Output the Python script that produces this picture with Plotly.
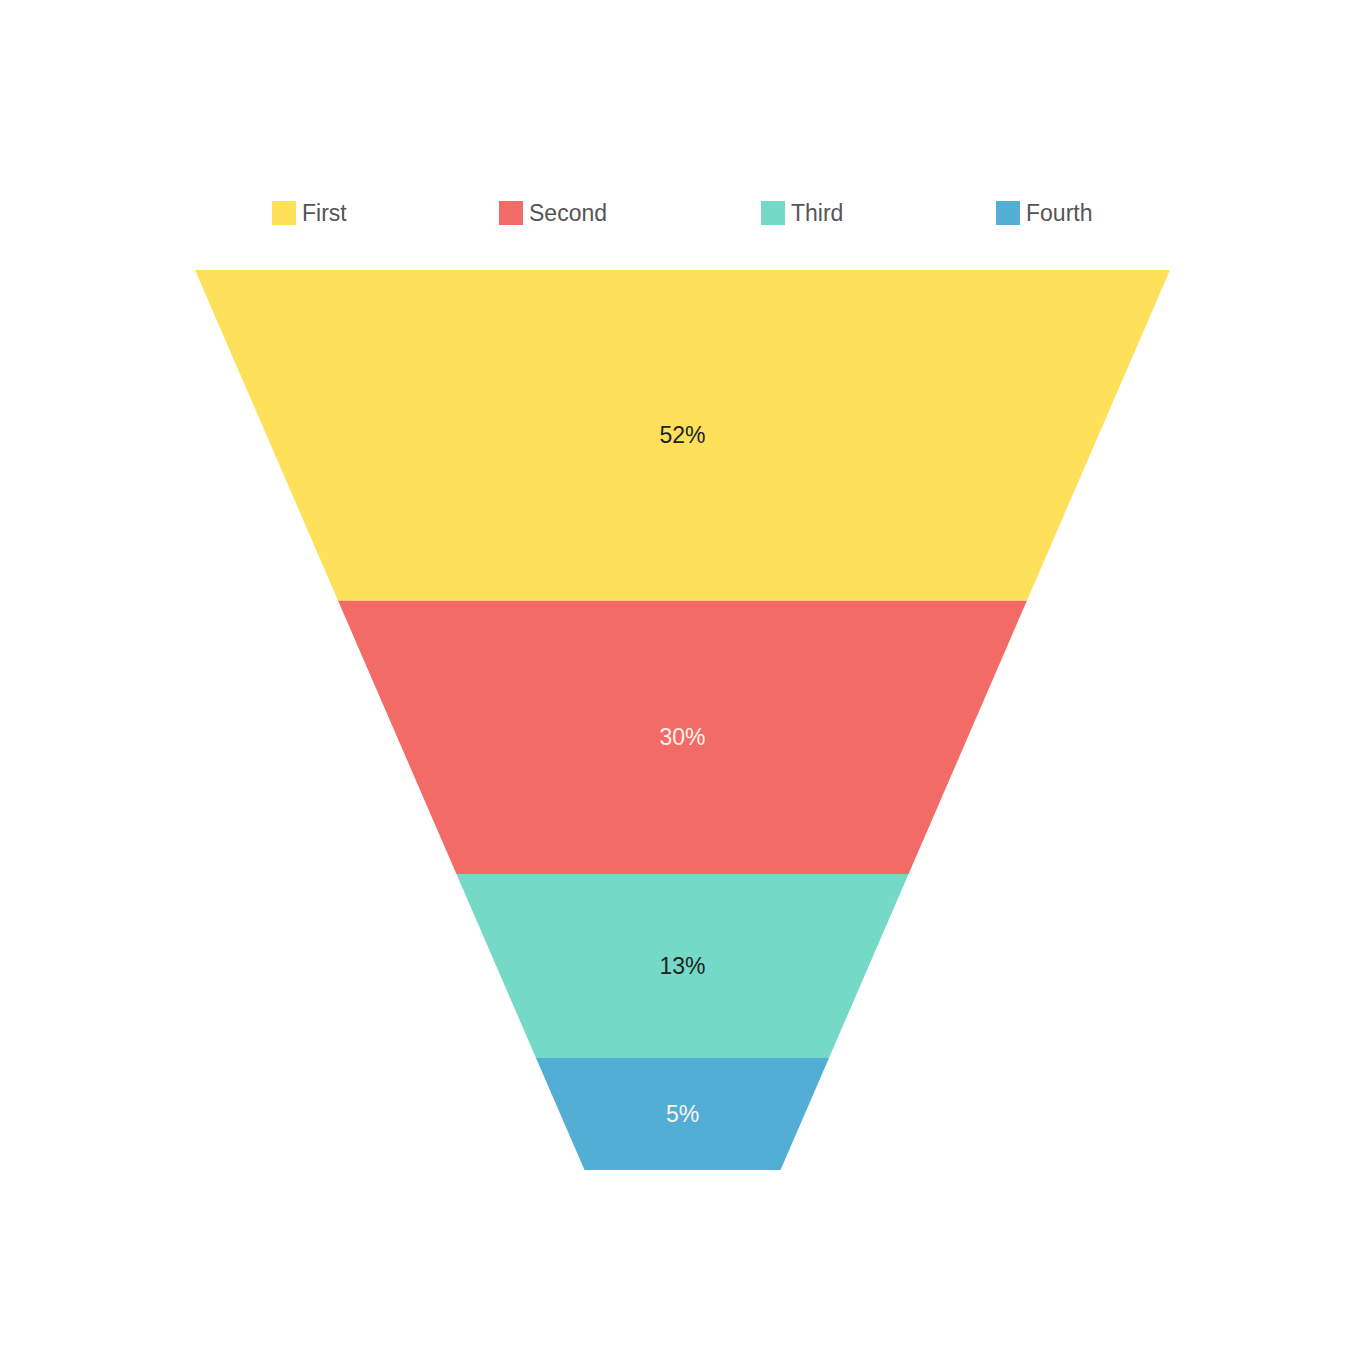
import plotly.graph_objects as go

# ==============================
# Data
# ==============================
labels = ["First", "Second", "Third", "Fourth"]
values = [52.2, 29.6, 13.0, 5.2]
colors = ["#FFE05B", "#F36B67", "#75D9C8", "#53AED6"]
text_colors = ["#222222", "#FFF3E8", "#222222", "#FFF3E8"]

W = 1366
H = 1366
OFF = 8  # page body margin

fig = go.Figure()

fig.add_trace(go.Funnelarea(
    labels=labels,
    values=values,
    textinfo="percent",
    texttemplate="%{percent:.0%}",
    textfont=dict(size=23, color=text_colors, family="Liberation Sans, Arial"),
    marker=dict(colors=colors, line=dict(width=0)),
    baseratio=196 / 975,
    aspectratio=900 / 975,
    domain=dict(x=[(195 - OFF) / W, (1170 - OFF) / W],
                y=[1 - (1170 - OFF) / H, 1 - (270 - OFF) / H]),
    showlegend=False,
))

# ==============================
# Legend (big square keys)
# ==============================
legend_x = [272, 499, 761, 996]
legend_y = 213
for name, col, lx in zip(labels, colors, legend_x):
    px0 = lx - OFF
    py = legend_y - OFF
    fig.add_shape(
        type="rect", xref="paper", yref="paper",
        x0=px0 / W, x1=(px0 + 24) / W,
        y0=1 - (py + 12) / H, y1=1 - (py - 12) / H,
        fillcolor=col, line=dict(width=0),
    )
    fig.add_annotation(
        x=(px0 + 28) / W, y=1 - py / H, xref="paper", yref="paper",
        text=name, showarrow=False, xanchor="left", yanchor="middle",
        font=dict(size=23, color="#555555", family="Liberation Sans, Arial"),
    )

fig.update_layout(
    width=W,
    height=H,
    margin=dict(l=0, r=0, t=0, b=0),
    paper_bgcolor="white",
    plot_bgcolor="white",
)

fig.write_html("out.html")
